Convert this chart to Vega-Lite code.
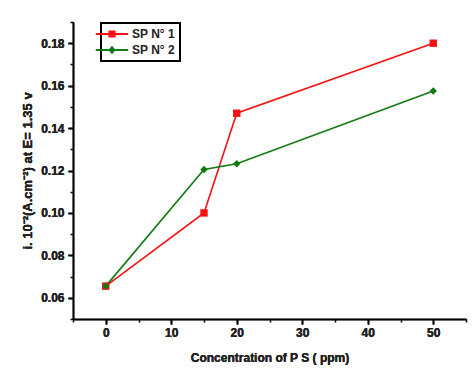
{
  "$schema": "https://vega.github.io/schema/vega-lite/v6.json",
  "autosize": "none",
  "width": 393,
  "height": 297,
  "padding": {"left": 73, "top": 22, "right": 8, "bottom": 65},
  "background": "white",
  "config": {
    "view": {"stroke": null},
    "font": "Liberation Sans",
    "axis": {"grid": false, "domainColor": "#000", "domainWidth": 1.5, "tickColor": "#000", "tickWidth": 1.5, "labelFont": "Liberation Sans", "labelFontWeight": "bold", "labelColor": "#222", "labelFontSize": 12, "titleFont": "Liberation Sans", "titleFontWeight": "bold", "titleFontSize": 12, "titleColor": "#222"}
  },
  "data": {
    "values": [
      {"c": 0, "i": 0.0655, "s": "SP N° 1"},
      {"c": 15, "i": 0.1, "s": "SP N° 1"},
      {"c": 20, "i": 0.147, "s": "SP N° 1"},
      {"c": 50, "i": 0.18, "s": "SP N° 1"},
      {"c": 0, "i": 0.0655, "s": "SP N° 2"},
      {"c": 15, "i": 0.1205, "s": "SP N° 2"},
      {"c": 20, "i": 0.1232, "s": "SP N° 2"},
      {"c": 50, "i": 0.1575, "s": "SP N° 2"}
    ]
  },
  "encoding": {
    "x": {"field": "c", "type": "quantitative", "scale": {"domain": [-5, 55], "nice": false, "zero": false},
      "axis": {"orient": "bottom", "values": [0, 10, 20, 30, 40, 50], "title": "Concentration of P S ( ppm)", "titlePadding": 14, "tickSize": 5, "labelPadding": 3}},
    "y": {"field": "i", "type": "quantitative", "scale": {"domain": [0.05, 0.19], "nice": false, "zero": false},
      "axis": {"orient": "left", "values": [0.06, 0.08, 0.1, 0.12, 0.14, 0.16, 0.18], "format": ".2f", "title": "i. 10⁻²(A.cm⁻²) at E= 1.35 v", "titleFontSize": 13, "titlePadding": 6, "tickSize": 5, "labelPadding": 4}},
    "color": {"field": "s", "type": "nominal", "scale": {"domain": ["SP N° 1", "SP N° 2"], "range": ["#f21414", "#127a12"]},
      "legend": {"orient": "none", "legendX": 28, "legendY": 1, "title": null, "strokeColor": "#000", "padding": 5, "labelFontWeight": "bold", "labelFontSize": 12, "labelColor": "#222", "symbolSize": 144, "rowPadding": 4, "labelOffset": 14, "symbolStrokeWidth": 0,
        "encode": {
          "legend": {"update": {"strokeWidth": {"value": 2}}},
          "symbols": {"update": {"shape": {"signal": "datum.value === 'SP N° 1' ? 'M-2.7,-0.15H2.7V0.15H-2.7Z M-0.6,-0.6H0.6V0.6H-0.6Z' : 'M-2.7,-0.15H2.7V0.15H-2.7Z M0,-0.7L0.62,0L0,0.7L-0.62,0Z'"}, "fill": {"scale": "color", "field": "value"}, "fillOpacity": {"value": 1}, "strokeWidth": {"value": 0}}}}}}
  },
  "layer": [
    {"mark": {"type": "line", "strokeWidth": 1.6}},
    {"transform": [{"filter": "datum.s === 'SP N° 1'"}],
     "mark": {"type": "point", "shape": "square", "filled": true, "opacity": 1, "size": 55}},
    {"transform": [{"filter": "datum.s === 'SP N° 2'"}],
     "mark": {"type": "point", "shape": "diamond", "filled": true, "opacity": 1, "size": 55}},
    {"mark": {"type": "point", "opacity": 0},
      "encoding": {
        "x": {"field": "c", "type": "quantitative", "axis": {"orient": "bottom", "values": [-5, 5, 15, 25, 35, 45, 55], "labels": false, "domain": false, "tickSize": 3, "title": null}},
        "y": {"field": "i", "type": "quantitative", "axis": {"orient": "left", "values": [0.05, 0.07, 0.09, 0.11, 0.13, 0.15, 0.17, 0.19], "labels": false, "domain": false, "tickSize": 3, "title": null}},
        "color": {"value": "white"}
      }}
  ],
  "resolve": {"axis": {"x": "independent", "y": "independent"}}
}
